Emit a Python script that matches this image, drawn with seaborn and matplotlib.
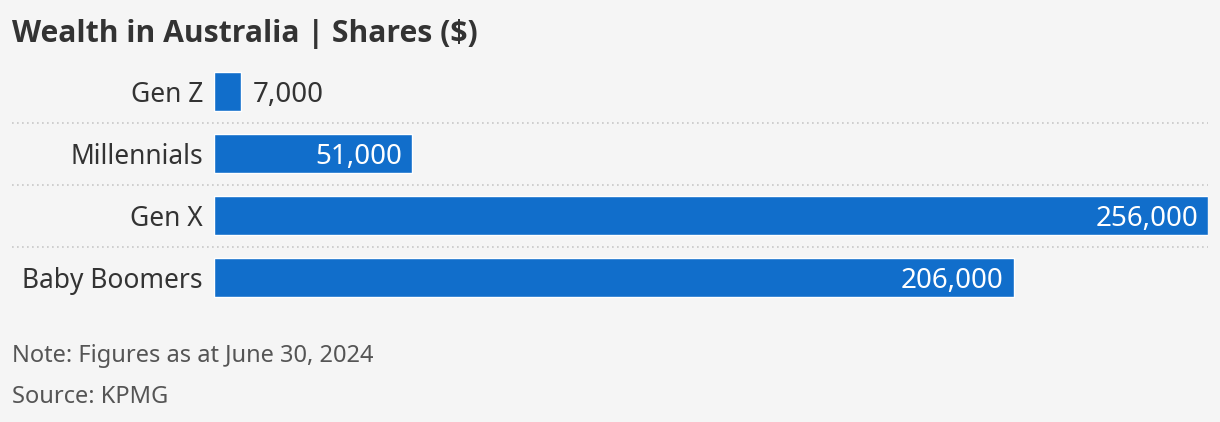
import pandas as pd
import seaborn as sns
import matplotlib.pyplot as plt

# shares wealth by generation
generations = ['Gen Z', 'Millennials', 'Gen X', 'Baby Boomers']
shares = [7000, 51000, 256000, 206000]
labels = ['7,000', '51,000', '256,000', '206,000']

df = pd.DataFrame({'Generation': generations, 'Shares': shares})

bg = '#f5f5f5'
blue = '#116ecb'
dark = '#333333'

sns.set_theme(style='white', rc={'figure.facecolor': bg, 'axes.facecolor': bg})
plt.rcParams['font.family'] = ['Noto Sans', 'DejaVu Sans']

fig = plt.figure(figsize=(12.2, 4.22), dpi=100)
ax = fig.add_axes([214 / 1220, 1 - 308.5 / 422, 994 / 1220, 248 / 422])

sns.barplot(data=df, x='Shares', y='Generation', orient='h', color=blue,
            saturation=1, width=0.63, ax=ax)
ax.set_xlim(0, 256000)
ax.set_ylim(3.5, -0.5)
ax.set(xlabel='', ylabel='')
ax.set_xticks([])
ax.tick_params(axis='y', length=0, pad=8, labelsize=19, labelcolor=dark)
for t in ax.get_yticklabels():
    t.set_verticalalignment('center_baseline')
for s in ax.spines.values():
    s.set_visible(False)

# value labels
for i, (v, lab) in enumerate(zip(shares, labels)):
    if v < 20000:
        ax.text(v + 3000, i, lab, ha='left', va='center_baseline', fontsize=20, color=dark)
    else:
        ax.text(v - 2600, i, lab, ha='right', va='center_baseline', fontsize=20, color='white')

# dotted separators between rows
for y in [0.5, 1.5, 2.5]:
    ax.plot([-202 / 994 * 256000, 256000], [y, y], ls=(0, (1, 2)), lw=1.2,
            color='#c8c8c8', clip_on=False)

fig.text(12 / 1220, 1 - 42 / 422, 'Wealth in Australia | Shares ($)', fontsize=21.7,
         fontweight='bold', family=['Open Sans', 'DejaVu Sans'], color=dark,
         ha='left', va='baseline')
fig.text(12 / 1220, 1 - 362 / 422, 'Note: Figures as at June 30, 2024', fontsize=17,
         color='#555555', ha='left', va='baseline')
fig.text(12 / 1220, 1 - 403 / 422, 'Source: KPMG', fontsize=17,
         color='#555555', ha='left', va='baseline')

plt.savefig('out.png', dpi=100, facecolor=bg)
